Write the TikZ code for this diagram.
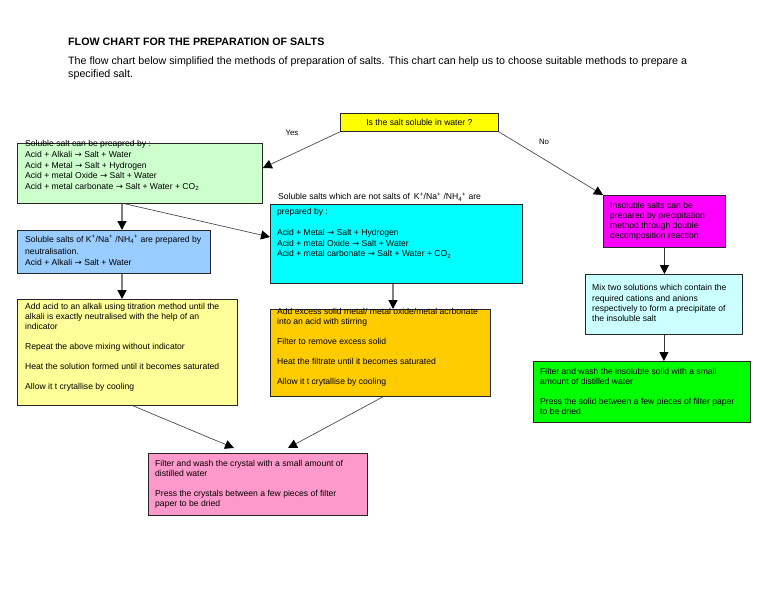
\documentclass[tikz,border=0pt]{standalone}
\usepackage{fontspec}
\setmainfont{Liberation Sans}
\newfontfamily\arrfont{DejaVu Sans}
\usetikzlibrary{arrows.meta,calc}
\newcommand{\myarr}{{\arrfont →}}
\definecolor{qyel}{HTML}{FFFF00}
\definecolor{lgreen}{HTML}{CCFFCC}
\definecolor{lblue}{HTML}{99CCFF}
\definecolor{cyanbox}{HTML}{00FFFF}
\definecolor{magbox}{HTML}{FF00FF}
\definecolor{lcyan}{HTML}{CCFFFF}
\definecolor{bgreen}{HTML}{00FF00}
\definecolor{lyellow}{HTML}{FFFF99}
\definecolor{orangebox}{HTML}{FFCC00}
\definecolor{pinkbox}{HTML}{FF99CC}
\begin{document}
\begin{tikzpicture}[x=1pt,y=-1pt,
  box/.style={draw=black!85, line width=0.8pt, inner sep=0pt, anchor=north west},
  txt/.style={inner sep=0pt, anchor=north west, align=left, font=\fontsize{8.6}{10}\selectfont},
  conn/.style={draw=black!70, line width=0.7pt, -{Triangle[length=9pt,width=9pt,color=black]}},
  vconn/.style={draw=gray, line width=1.3pt, -{Triangle[length=9pt,width=9pt,color=black]}},
  thinv/.style={draw=black!80, line width=0.8pt, -{Triangle[length=9pt,width=9pt,color=black]}}]
\path[use as bounding box, fill=white] (0,0) rectangle (768,594);

% title and intro
\node[anchor=west, inner sep=0pt, font=\bfseries\fontsize{10.7}{12}\selectfont] (title) at (68,42) {FLOW CHART FOR THE PREPARATION OF SALTS};
\node[anchor=north west, align=left, inner sep=0pt, font=\fontsize{10.7}{13}\selectfont] (intro) at (68,56.5) {The flow chart below simplified the methods of preparation of salts. This chart can help us to choose suitable methods to prepare a\\specified salt.};

% boxes
\node[box, fill=qyel, minimum width=158pt, minimum height=18pt, font=\fontsize{8.6}{10}\selectfont] (q) at (340,113) {Is the salt soluble in water ?};
\node[box, fill=lgreen, minimum width=245pt, minimum height=60pt] (g) at (17,143) {};
\node[box, fill=lblue, minimum width=193pt, minimum height=43pt] (b) at (17,230) {};
\node[box, fill=cyanbox, minimum width=252pt, minimum height=79pt] (c) at (270,204) {};
\node[box, fill=magbox, minimum width=122pt, minimum height=52pt] (m) at (603,195) {};
\node[box, fill=lcyan, minimum width=157pt, minimum height=60pt] (lc) at (585,274) {};
\node[box, fill=bgreen, minimum width=217pt, minimum height=61pt] (bg) at (533,361) {};
\node[box, fill=lyellow, minimum width=220pt, minimum height=106pt] (y) at (17,299) {};
\node[box, fill=orangebox, minimum width=220pt, minimum height=87pt] (o) at (270,309) {};
\node[box, fill=pinkbox, minimum width=219pt, minimum height=62pt] (p) at (148,453) {};

% box texts
\node[txt, font=\fontsize{8.6}{10.6}\selectfont] (gt) at (25,140.5) {Soluble salt can be preapred by :\\
Acid + Alkali \myarr{} Salt + Water\\
Acid + Metal \myarr{} Salt + Hydrogen\\
Acid + metal Oxide \myarr{} Salt + Water\\
Acid + metal carbonate \myarr{} Salt + Water + CO\textsubscript{2}};

\node[txt] (bt) at (25,234.5) {Soluble salts of K\textsuperscript{+}/Na\textsuperscript{+} /NH\textsubscript{4}\textsuperscript{+} are prepared by\\[3pt]
neutralisation.\\
Acid + Alkali \myarr{} Salt + Water};

\node[txt] (ct0) at (278,192.5) {Soluble salts which are not salts of \,K\textsuperscript{+}/Na\textsuperscript{+} /NH\textsubscript{4}\textsuperscript{+} are};
\node[txt, font=\fontsize{8.6}{10.5}\selectfont] (ct) at (277,208.5) {prepared by :\\[10.5pt]
Acid + Metal \myarr{} Salt + Hydrogen\\
Acid + metal Oxide \myarr{} Salt + Water\\
Acid + metal carbonate \myarr{} Salt + Water + CO\textsubscript{2}};

\node[txt] (mt) at (610,202.5) {Insoluble salts can be\\prepared by precipitation\\method through double\\decomposition reaction};

\node[txt, font=\fontsize{8.6}{10.3}\selectfont] (lct) at (592,284.5) {Mix two solutions which contain the\\required cations and anions\\respectively to form a precipitate of\\the insoluble salt};

\node[txt, font=\fontsize{8.6}{9.9}\selectfont] (bgt) at (540,368.5) {Filter and wash the insoluble solid with a small\\amount of distilled water\\[9.9pt]
Press the solid between a few pieces of filter paper\\to be dried};

\node[txt] (yt) at (25,303.5) {Add acid to an alkali using titration method until the\\alkali is exactly neutralised with the help of an\\indicator\\[10pt]
Repeat the above mixing without indicator\\[10pt]
Heat the solution formed until it becomes saturated\\[10pt]
Allow it t crytallise by cooling};

\node[txt] (ot) at (277,308.5) {Add excess solid metal/ metal oxide/metal acrbonate\\into an acid with stirring\\[10pt]
Filter to remove excess solid\\[10pt]
Heat the filtrate until it becomes saturated\\[10pt]
Allow it t crytallise by cooling};

\node[txt] (pt) at (155,460.5) {Filter and wash the crystal with a small amount of\\distilled water\\[10pt]
Press the crystals between a few pieces of filter\\paper to be dried};

% labels
\node[inner sep=0pt, font=\fontsize{7.8}{9}\selectfont] (yes) at (292,133) {Yes};
\node[inner sep=0pt, font=\fontsize{7.8}{9}\selectfont] (no) at (544,142) {No};

% connectors
\draw[conn] (q.south west) -- ($(g.north east)+(0,25)$);
\draw[conn] (q.south east) -- (m.north west);
\draw[vconn] ($(g.south west)+(105,0)$) -- ($(b.north west)+(105,0)$);
\draw[conn] ($(g.south west)+(108,0)$) -- ($(c.north west)+(0,33)$);
\draw[vconn] ($(b.south west)+(105,0)$) -- ($(y.north west)+(105,0)$);
\draw[vconn] ($(c.south west)+(123,0)$) -- ($(o.north west)+(123,0)$);
\draw[thinv] (m.south) -- (m.south |- lc.north);
\draw[thinv] (lc.south) -- (lc.south |- bg.north);
\coordinate (p1) at (234,448);
\coordinate (p2) at (288,448);
\draw[conn] ($(y.south west)+(116,0)$) -- (p1);
\draw[conn] ($(o.south west)+(113,0)$) -- (p2);
\end{tikzpicture}
\end{document}
